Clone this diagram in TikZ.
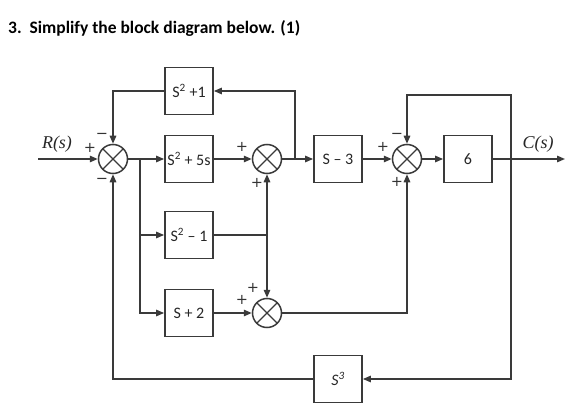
\documentclass[tikz,border=0pt]{standalone}
\usepackage{fontspec}
\setmainfont{Carlito}
\newfontfamily\timesf{Liberation Serif}
\newfontfamily\djv{DejaVu Sans}
\usetikzlibrary{arrows.meta}
\definecolor{lc}{HTML}{3A3A3A}
\newcommand{\sq}[1]{\textsuperscript{#1}}
\begin{document}
\begin{tikzpicture}[x=1pt,y=-1pt,
  line/.style={draw=lc, line width=1.4pt},
  arr/.style={line, -{Triangle[length=8pt,width=6.5pt]}},
  blk/.style={draw=lc, line width=1.8pt, minimum width=48pt, minimum height=47pt, inner sep=0pt, text=black!85, font=\fontsize{16}{17}\selectfont},
  sumj/.style={draw=lc, circle, line width=1.5pt, minimum size=29pt, inner sep=0pt,
    path picture={\draw[lc,line width=1.3pt] (path picture bounding box.south west) -- (path picture bounding box.north east) (path picture bounding box.north west) -- (path picture bounding box.south east);}},
  sgn/.style={font=\djv\fontsize{14.5}{15}\selectfont, inner sep=0pt, text=black!80},
  sig/.style={font=\timesf\itshape\fontsize{18}{18}\selectfont, inner sep=0pt, text=black!85}
]
\useasboundingbox (0,0) rectangle (571,412);
\node[anchor=base west, font=\bfseries\fontsize{17.5}{18}\selectfont, inner sep=0pt] (title) at (8,34) {3.\ \ Simplify the block diagram below. (1)};

\node[sumj] (S1) at (113,159) {};
\node[sumj] (S2) at (267,159) {};
\node[sumj] (S3) at (407,159) {};
\node[sumj] (S4) at (267,313) {};
\node[blk] (B1) at (189,91) {S\sq{2} +1};
\node[blk] (B2) at (189,159) {S\sq{2} + 5s};
\node[blk] (B3) at (189,235) {S\sq{2} -- 1};
\node[blk] (B4) at (189,313) {S + 2};
\node[blk] (B5) at (338,159) {S -- 3};
\node[blk] (B6) at (468,159) {6};
\node[blk] (B7) at (338,379) {\itshape S\sq{3}};

\coordinate (in) at (38,159);
\coordinate (out) at (565,159);
\coordinate (p0) at (140,159);
\coordinate (p1) at (295,159);
\coordinate (p2) at (511,159);
\coordinate (t2) at (511,95);
\coordinate (j) at (267,235);

\node[sig] (R) at (57,144) {R(s)};
\node[sig] (C) at (538,144) {C(s)};

\draw[arr] (in) -- (S1);
\draw[arr] (S1) -- (B2);
\draw[arr] (B2) -- (S2);
\draw[arr] (S2) -- (B5);
\draw[arr] (p1) |- (B1.east);
\draw[arr] (B1.west) -| (S1.north);
\draw[arr] (B5) -- (S3);
\draw[arr] (S3) -- (B6);
\draw[arr] (B6) -- (out);
\draw[arr] (p2) -- (t2) -| (S3.north);
\draw[arr] (p2) |- (B7.east);
\draw[arr] (B7.west) -| (S1.south);
\draw[arr] (p0) |- (B3.west);
\draw[arr] (p0) |- (B4.west);
\draw[arr] (B4) -- (S4);
\draw[line] (B3.east) -- (j);
\draw[arr] (j) -- (S2.south);
\draw[arr] (j) -- (S4.north);
\draw[arr] (S4.east) -| (S3.south);

\node[sgn] (s1a) at (90,148) {+};
\node[sgn] (s1b) at (102,136) {−};
\node[sgn] (s1c) at (102,181) {−};
\node[sgn] (s2a) at (242,147) {+};
\node[sgn] (s2b) at (257,183) {+};
\node[sgn] (s3a) at (397,136) {−};
\node[sgn] (s3b) at (383,147) {+};
\node[sgn] (s3c) at (397,182) {+};
\node[sgn] (s4a) at (253,288) {+};
\node[sgn] (s4b) at (242,300) {+};
\end{tikzpicture}
\end{document}
